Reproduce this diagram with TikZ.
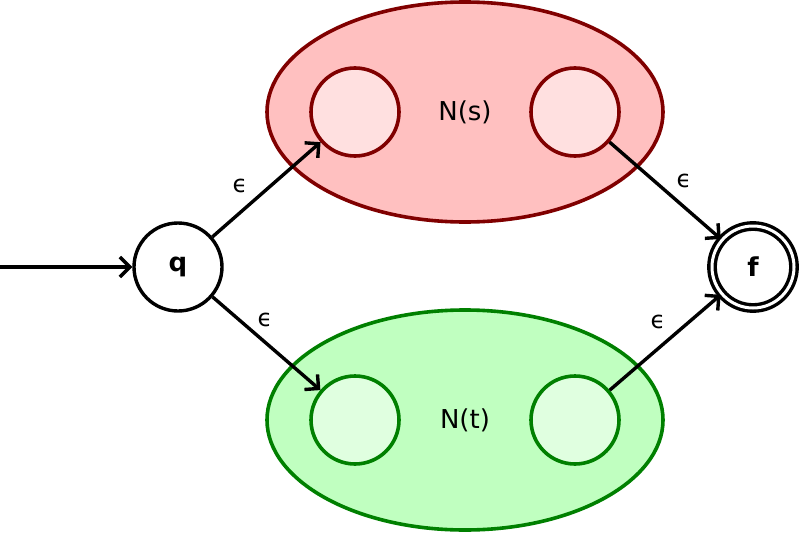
\documentclass[tikz,border=0pt]{standalone}
\usepackage{fontspec}
\setmainfont{DejaVu Sans}
\usetikzlibrary{arrows.meta}
\definecolor{redS}{HTML}{800000}
\definecolor{redF}{HTML}{FFC0C0}
\definecolor{redI}{HTML}{FFE0E0}
\definecolor{grnS}{HTML}{008000}
\definecolor{grnF}{HTML}{C0FFC0}
\definecolor{grnI}{HTML}{E0FFE0}
\begin{document}
\begin{tikzpicture}[x=1pt,y=-1pt,line width=3.4pt,
  st/.style={circle,draw,minimum size=88pt,inner sep=0pt,font=\fontsize{26}{30}\selectfont\bfseries},
  inner/.style={circle,draw,minimum size=88pt,inner sep=0pt},
  lab/.style={font=\fontsize{24}{28}\selectfont},
  arr/.style={-{Straight Barb[length=10pt,width=20pt,line width=3.4pt]}}]
\useasboundingbox (0,0) rectangle (800,535);
\draw[draw=redS,fill=redF,line width=3.6pt] (465,112) ellipse [x radius=198,y radius=110];
\draw[draw=grnS,fill=grnF,line width=3.6pt] (465,420) ellipse [x radius=198,y radius=110];
\node[inner,draw=redS,fill=redI,line width=3.6pt] (s1) at (355,112) {};
\node[inner,draw=redS,fill=redI,line width=3.6pt] (s2) at (575,112) {};
\node[inner,draw=grnS,fill=grnI,line width=3.6pt] (t1) at (355,420) {};
\node[inner,draw=grnS,fill=grnI,line width=3.6pt] (t2) at (575,420) {};
\node[font=\fontsize{26}{30}\selectfont] (ns) at (465,112) {N(s)};
\node[font=\fontsize{26}{30}\selectfont] (nt) at (465,420) {N(t)};
\node[st] (q) at (178,267) {q};
\node[st,double,double distance=3pt,minimum size=82pt] (f) at (753,267) {f};
\coordinate (start) at (0,267);
\draw[arr] (start) -- (q);
\draw[arr] (q) -- (s1);
\draw[arr] (q) -- (t1);
\draw[arr] (s2) -- (f);
\draw[arr] (t2) -- (f);
\node[lab] (e1) at (240,186) {ϵ};
\node[lab] (e2) at (265,320) {ϵ};
\node[lab] (e3) at (684,181) {ϵ};
\node[lab] (e4) at (658,322) {ϵ};
\end{tikzpicture}
\end{document}
